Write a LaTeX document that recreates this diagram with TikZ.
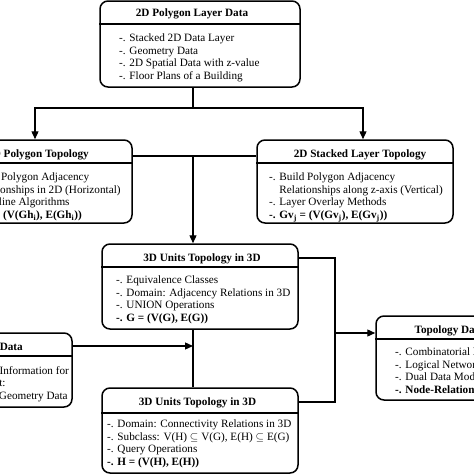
\documentclass[tikz,border=0pt]{standalone}
\usepackage{fontspec}
\setmainfont{Liberation Serif}
\usetikzlibrary{arrows.meta}
\newcommand{\bfnt}{\fontsize{11.2}{12.6}\selectfont}
\newcommand{\ind}{\phantom{-. }}
\begin{document}
\begin{tikzpicture}[x=1pt,y=-1pt,
  box/.style={draw, line width=1.5pt, rounded corners=8pt, inner sep=0pt},
  sepline/.style={line width=1.1pt},
  ttl/.style={font=\bfnt\bfseries, inner sep=0pt, anchor=base},
  body/.style={font=\bfnt, inner sep=0pt, anchor=base west},
  conn/.style={line width=1.3pt},
  arr/.style={conn, -{Triangle[length=8pt,width=7pt]}}]
\useasboundingbox (0,0) rectangle (474,474);
\fill[white] (0,0) rectangle (474,474);
\clip (0,0) rectangle (474,474);

% boxes
\node[box, minimum width=200pt, minimum height=86pt] (T) at (200,44) {};
\node[box, minimum width=196pt, minimum height=83pt] (L) at (34,181.5) {};
\node[box, minimum width=196pt, minimum height=83pt] (R) at (355,181.5) {};
\node[box, minimum width=196pt, minimum height=85pt] (M) at (200,286.5) {};
\node[box, minimum width=196pt, minimum height=74pt] (D) at (-26,370) {};
\node[box, minimum width=196pt, minimum height=84pt] (P) at (474,358) {};
\node[box, minimum width=196pt, minimum height=85pt] (B) at (200,430.5) {};

% separators
\coordinate (sT) at (0,24);
\coordinate (sL) at (0,163);
\coordinate (sM) at (0,267);
\coordinate (sD) at (0,356);
\coordinate (sP) at (0,339);
\coordinate (sB) at (0,413);
\draw[sepline] (T.west |- sT) -- (T.east |- sT);
\draw[sepline] (L.west |- sL) -- (L.east |- sL);
\draw[sepline] (R.west |- sL) -- (R.east |- sL);
\draw[sepline] (M.west |- sM) -- (M.east |- sM);
\draw[sepline] (D.west |- sD) -- (D.east |- sD);
\draw[sepline] (P.west |- sP) -- (P.east |- sP);
\draw[sepline] (B.west |- sB) -- (B.east |- sB);

% titles
\node[ttl] (tT) at (192,16.7) {2D Polygon Layer Data};
\node[ttl] (tL) at (38,157.5) {2D Polygon Topology};
\node[ttl] (tR) at (360,157) {2D Stacked Layer Topology};
\node[ttl] (tM) at (202,261) {3D Units Topology in 3D};
\node[ttl, anchor=base east] (tD) at (23,350) {Semantic Data};
\node[ttl] (tP) at (466,333) {Topology Data Model};
\node[ttl] (tB) at (197.5,405) {3D Units Topology in 3D};

% bodies
\node[body] (bT) at (119,41.7) {\begin{tabular}[t]{@{}l@{}}
-. Stacked 2D Data Layer\\
-. Geometry Data\\
-. 2D Spatial Data with z-value\\
-. Floor Plans of a Building\end{tabular}};
\node[body] (bL) at (-37,180.7) {\begin{tabular}[t]{@{}l@{}}
-. Build Polygon Adjacency\\
\ind Relationships in 2D (Horizontal)\\
-. Scan-line Algorithms\\
\textbf{-. Gh\textsubscript{i} = (V(Gh\textsubscript{i}), E(Gh\textsubscript{i}))}\end{tabular}};
\node[body] (bR) at (269,180.7) {\begin{tabular}[t]{@{}l@{}}
-. Build Polygon Adjacency\\
\ind Relationships along z-axis (Vertical)\\
-. Layer Overlay Methods\\
\textbf{-. Gv\textsubscript{j} = (V(Gv\textsubscript{j}), E(Gv\textsubscript{j}))}\end{tabular}};
\node[body] (bM) at (116,283.7) {\begin{tabular}[t]{@{}l@{}}
-. Equivalence Classes\\
-. Domain: Adjacency Relations in 3D\\
-. UNION Operations\\
\textbf{-. G = (V(G), E(G))}\end{tabular}};
\node[body] (bD) at (-28,374) {\begin{tabular}[t]{@{}l@{}}
-. All Information for\\
\ind Unit:\\
-. 3D Geometry Data\end{tabular}};
\node[body] (bP) at (395,355.5) {\begin{tabular}[t]{@{}l@{}}
-. Combinatorial Model\\
-. Logical Network Model\\
-. Dual Data Model\\
\textbf{-. Node-Relation Structure}\end{tabular}};
\node[body] (bB) at (107,427.7) {\begin{tabular}[t]{@{}l@{}}
-. Domain: Connectivity Relations in 3D\\
-. Subclass: V(H) $\subseteq$ V(G), E(H) $\subseteq$ E(G)\\
-. Query Operations\\
\textbf{-. H = (V(H), E(H))}\end{tabular}};

% connectors
\coordinate (sp) at (193,0);
\coordinate (j1) at (193,108);
\coordinate (jl) at (35,108);
\coordinate (jr) at (363,108);
\coordinate (h1) at (0,156);
\coordinate (h2) at (0,258);
\coordinate (h3) at (0,402);
\coordinate (h4) at (0,333);
\coordinate (h5) at (0,346);
\coordinate (vx) at (335,0);
\draw[conn] (T.south -| sp) -- (j1);
\draw[arr] (j1) -- (jl) -- (L.north -| jl);
\draw[arr] (j1) -- (jr) -- (R.north -| jr);
\draw[conn] (L.east |- h1) -- (R.west |- h1);
\draw[arr] (sp |- h1) -- (M.north -| sp);
\draw[conn] (M.east |- h2) -- (vx |- h2) -- (vx |- h3) -- (B.east |- h3);
\draw[arr] (vx |- h4) -- (P.west |- h4);
\draw[conn] (M.south -| sp) -- (B.north -| sp);
\draw[arr] (D.east |- h5) -- (sp |- h5);
\end{tikzpicture}
\end{document}
